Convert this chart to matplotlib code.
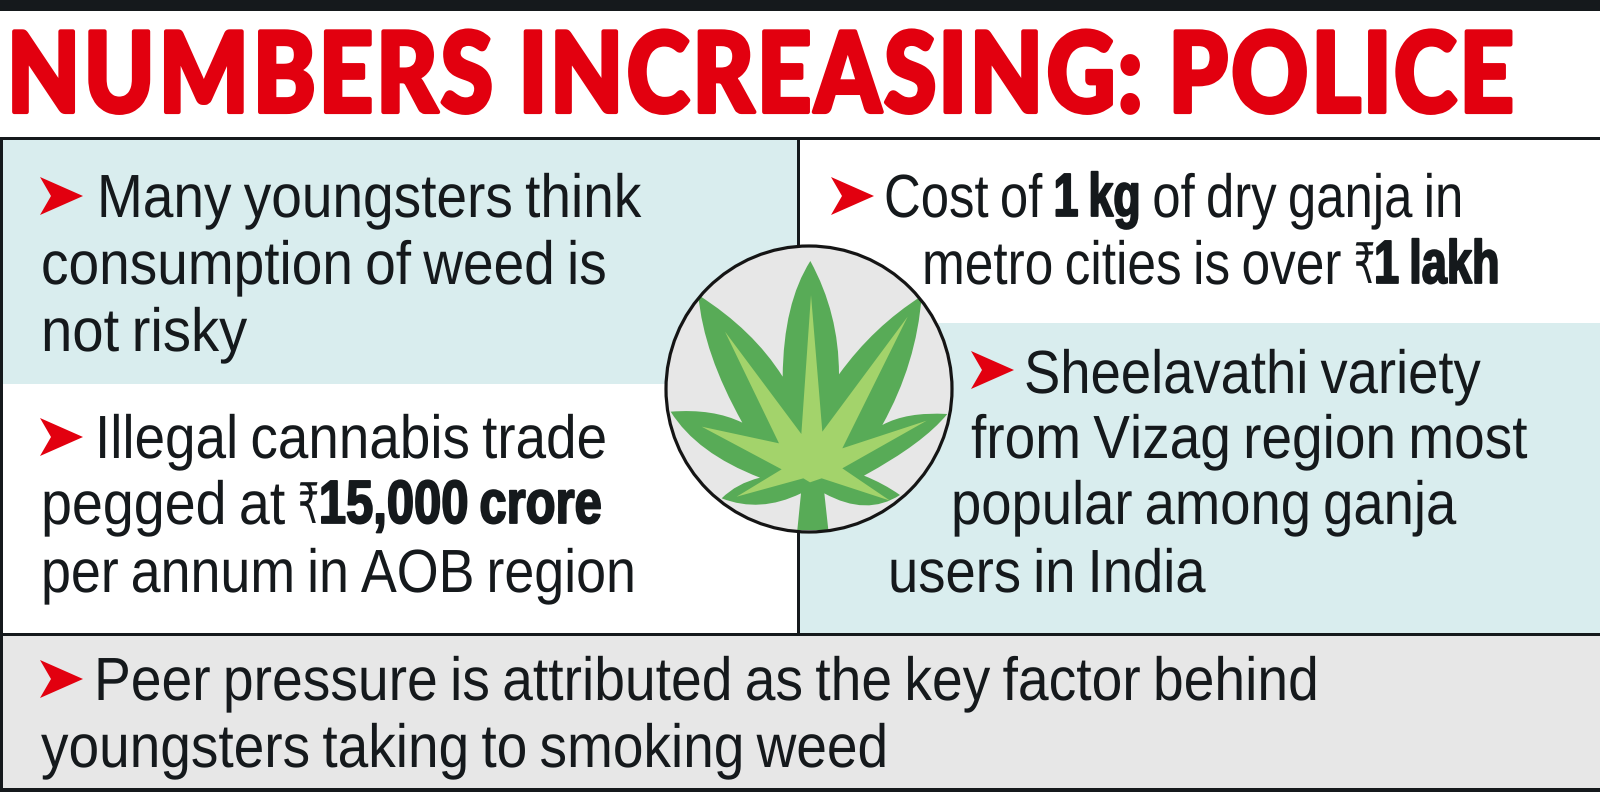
import matplotlib
matplotlib.use("Agg")
import matplotlib.pyplot as plt
from matplotlib import font_manager as fm
from matplotlib.font_manager import FontProperties as FP
from matplotlib.patches import Rectangle, Circle, PathPatch, Polygon
from matplotlib.path import Path
from matplotlib.transforms import Affine2D
from matplotlib import patheffects as pe
from fontTools.ttLib import TTFont

plt.rcParams['text.hinting'] = 'no_hinting'

TITLE = "NUMBERS INCREASING: POLICE"
# x, baseline, horizontal squeeze of the regular face, runs (text, face)
LINES = [
    (97, 216, 0.90, [("Many youngsters think", "r")]),
    (41, 283, 0.90, [("consumption of weed is", "r")]),
    (41, 350, 0.92, [("not risky", "r")]),
    (95, 457, 0.897, [("Illegal cannabis trade", "r")]),
    (41, 523, 0.91, [("pegged at ", "r"), ("₹", "u"), ("15,000 crore", "b")]),
    (41, 591, 0.88, [("per annum in AOB region", "r")]),
    (884, 216, 0.832, [("Cost of ", "r"), ("1 kg", "b"), (" of dry ganja in", "r")]),
    (922, 283, 0.84, [("metro cities is over ", "r"), ("₹", "u"), ("1 lakh", "b")]),
    (1024, 392, 0.89, [("Sheelavathi variety", "r")]),
    (971, 457, 0.90, [("from Vizag region most", "r")]),
    (951, 523, 0.89, [("popular among ganja", "r")]),
    (888, 591, 0.89, [("users in India", "r")]),
    (94, 699, 0.903, [("Peer pressure is attributed as the key factor behind", "r")]),
    (41, 766, 0.90, [("youngsters taking to smoking weed", "r")]),
]
ARROWS = [(40, 216), (40, 457), (831, 216), (971, 390), (40, 699)]

TEAL = "#d9edee"
GREY = "#e7e7e7"
INK = "#15191c"
RED = "#e2000f"
LEAF_DARK = "#58ab57"
LEAF_LIGHT = "#a3d36b"

LEAF_SEGS = [
    ((597, 250), (597, 433)), ((700, 290), (845, 198)), ((830, 400), (727, 585)),
    ((800, 545), (922, 552)), ((850, 640), (672, 737)), ((730, 760), (780, 795)),
    ((680, 860), (553, 790)), (None, (565, 900)), (None, (472, 900)), (None, (483, 790)),
    ((360, 850), (245, 805)), ((290, 760), (360, 743)), ((170, 670), (92, 545)),
    ((220, 535), (307, 578)), ((190, 370), (175, 195)), ((340, 300), (428, 440)),
    ((430, 220), (511, 93)),
]
LEAF_START = (511, 93)
STAR = [(513, 195), (547, 605), (803, 260), (607, 655), (860, 572), (607, 715), (750, 812),
        (545, 745), (510, 757), (490, 745), (290, 800), (425, 718), (185, 590), (417, 640),
        (255, 305), (484, 612)]

_cache = {}


def squeezed(family, weight, s, space=1.0, adv=None):
    """Write a horizontally condensed copy of an installed font and return its properties.

    s scales the outlines, adv the advance widths (default: same as s)."""
    adv = s if adv is None else adv
    key = (family, weight, s, space, adv)
    if key in _cache:
        return _cache[key]
    out = f"cond_{len(_cache)}.ttf"
    f = TTFont(fm.findfont(FP(family=family, weight=weight, style="normal")))
    glyf = f["glyf"]
    for name in glyf.keys():
        g = glyf[name]
        if g.isComposite():
            for c in g.components:
                c.x = int(round(c.x * s))
        elif g.numberOfContours > 0:
            g.coordinates.scale((s, 1))
            g.coordinates.toInt()
    hmtx = f["hmtx"]
    for name, (w, lsb) in list(hmtx.metrics.items()):
        hmtx.metrics[name] = (int(round(w * adv)), int(round(lsb * s + (adv - s) * w / 2)))
    if "space" in hmtx.metrics:
        w, lsb = hmtx.metrics["space"]
        hmtx.metrics["space"] = (int(round(w * space)), lsb)
    for t in ("kern", "GPOS", "GSUB", "fpgm", "prep", "cvt "):
        if t in f:
            del f[t]
    f.save(out)
    _cache[key] = FP(fname=out)
    return _cache[key]


TTL = squeezed("Lato", 900, 0.85, 1.0, 0.897)

fig = plt.figure(figsize=(16, 7.92), dpi=100, facecolor="white")
ax = fig.add_axes([0, 0, 1, 1])
ax.set_xlim(0, 1600)
ax.set_ylim(792, 0)
ax.axis("off")


def rect(x0, y0, x1, y1, c, z=1):
    ax.add_patch(Rectangle((x0, y0), x1 - x0, y1 - y0, fc=c, ec="none", zorder=z))


rect(0, 0, 1600, 11, INK)
rect(0, 140, 798, 384, TEAL)
rect(798, 323, 1600, 633, TEAL)
rect(0, 636, 1600, 788, GREY)
rect(0, 788, 1600, 792, INK, 2)
rect(0, 137, 1600, 140, INK, 2)
rect(0, 633, 1600, 636, INK, 2)
rect(0, 137, 3, 792, INK, 2)
rect(797, 137, 800, 636, INK, 2)

title = ax.text(5, 112, TITLE, fontproperties=TTL, fontsize=80, color=RED, va="baseline", zorder=4)
title.set_path_effects([pe.withStroke(linewidth=3, foreground=RED)])

renderer = fig.canvas.get_renderer()


def width(s, fp, size):
    a = ax.text(0, 0, s + "|", fontproperties=fp, fontsize=size)
    b = ax.text(0, 0, "|", fontproperties=fp, fontsize=size)
    w = a.get_window_extent(renderer).width - b.get_window_extent(renderer).width
    a.remove()
    b.remove()
    return w


SIZE = 44
for x, y, sq, runs in LINES:
    for s, face in runs:
        if face == "r":
            fp, size = squeezed("Liberation Sans", 400, sq, 0.8), SIZE
        elif face == "b":
            fp, size = squeezed("Liberation Sans", 700, round(sq * 0.88, 3), 0.8), SIZE
        else:
            fp, size = squeezed("DejaVu Sans", 400, 0.6), 40
        t = ax.text(x, y, s, fontproperties=fp, fontsize=size, color=INK, va="baseline", zorder=4)
        if face == "b":
            t.set_path_effects([pe.withStroke(linewidth=1.3, foreground=INK)])
        x += width(s, fp, size)

for x, y in ARROWS:
    ax.add_patch(Polygon([(x, y - 39), (x + 43, y - 20), (x, y - 1), (x + 11, y - 20)],
                         closed=True, fc=RED, ec="none", zorder=4))

ax.add_patch(Circle((809, 389), 143, fc=GREY, ec="none", zorder=5))
clip = Circle((809, 389), 142, transform=ax.transData)

T = Affine2D().scale(1 / 3).translate(640, 230) + ax.transData
verts = [LEAF_START]
codes = [Path.MOVETO]
for ctrl, end in LEAF_SEGS:
    if ctrl is None:
        verts.append(end)
        codes.append(Path.LINETO)
    else:
        verts += [ctrl, end]
        codes += [Path.CURVE3, Path.CURVE3]
leaf = PathPatch(Path(verts, codes), fc=LEAF_DARK, ec="none", transform=T, zorder=6)
ax.add_patch(leaf)
leaf.set_clip_path(clip)
star = Polygon(STAR, closed=True, fc=LEAF_LIGHT, ec="none", transform=T, zorder=7)
ax.add_patch(star)
ax.add_patch(Circle((809, 389), 143, fc="none", ec="#151515", lw=2.3, zorder=8))

fig.savefig("out.png", dpi=100)
